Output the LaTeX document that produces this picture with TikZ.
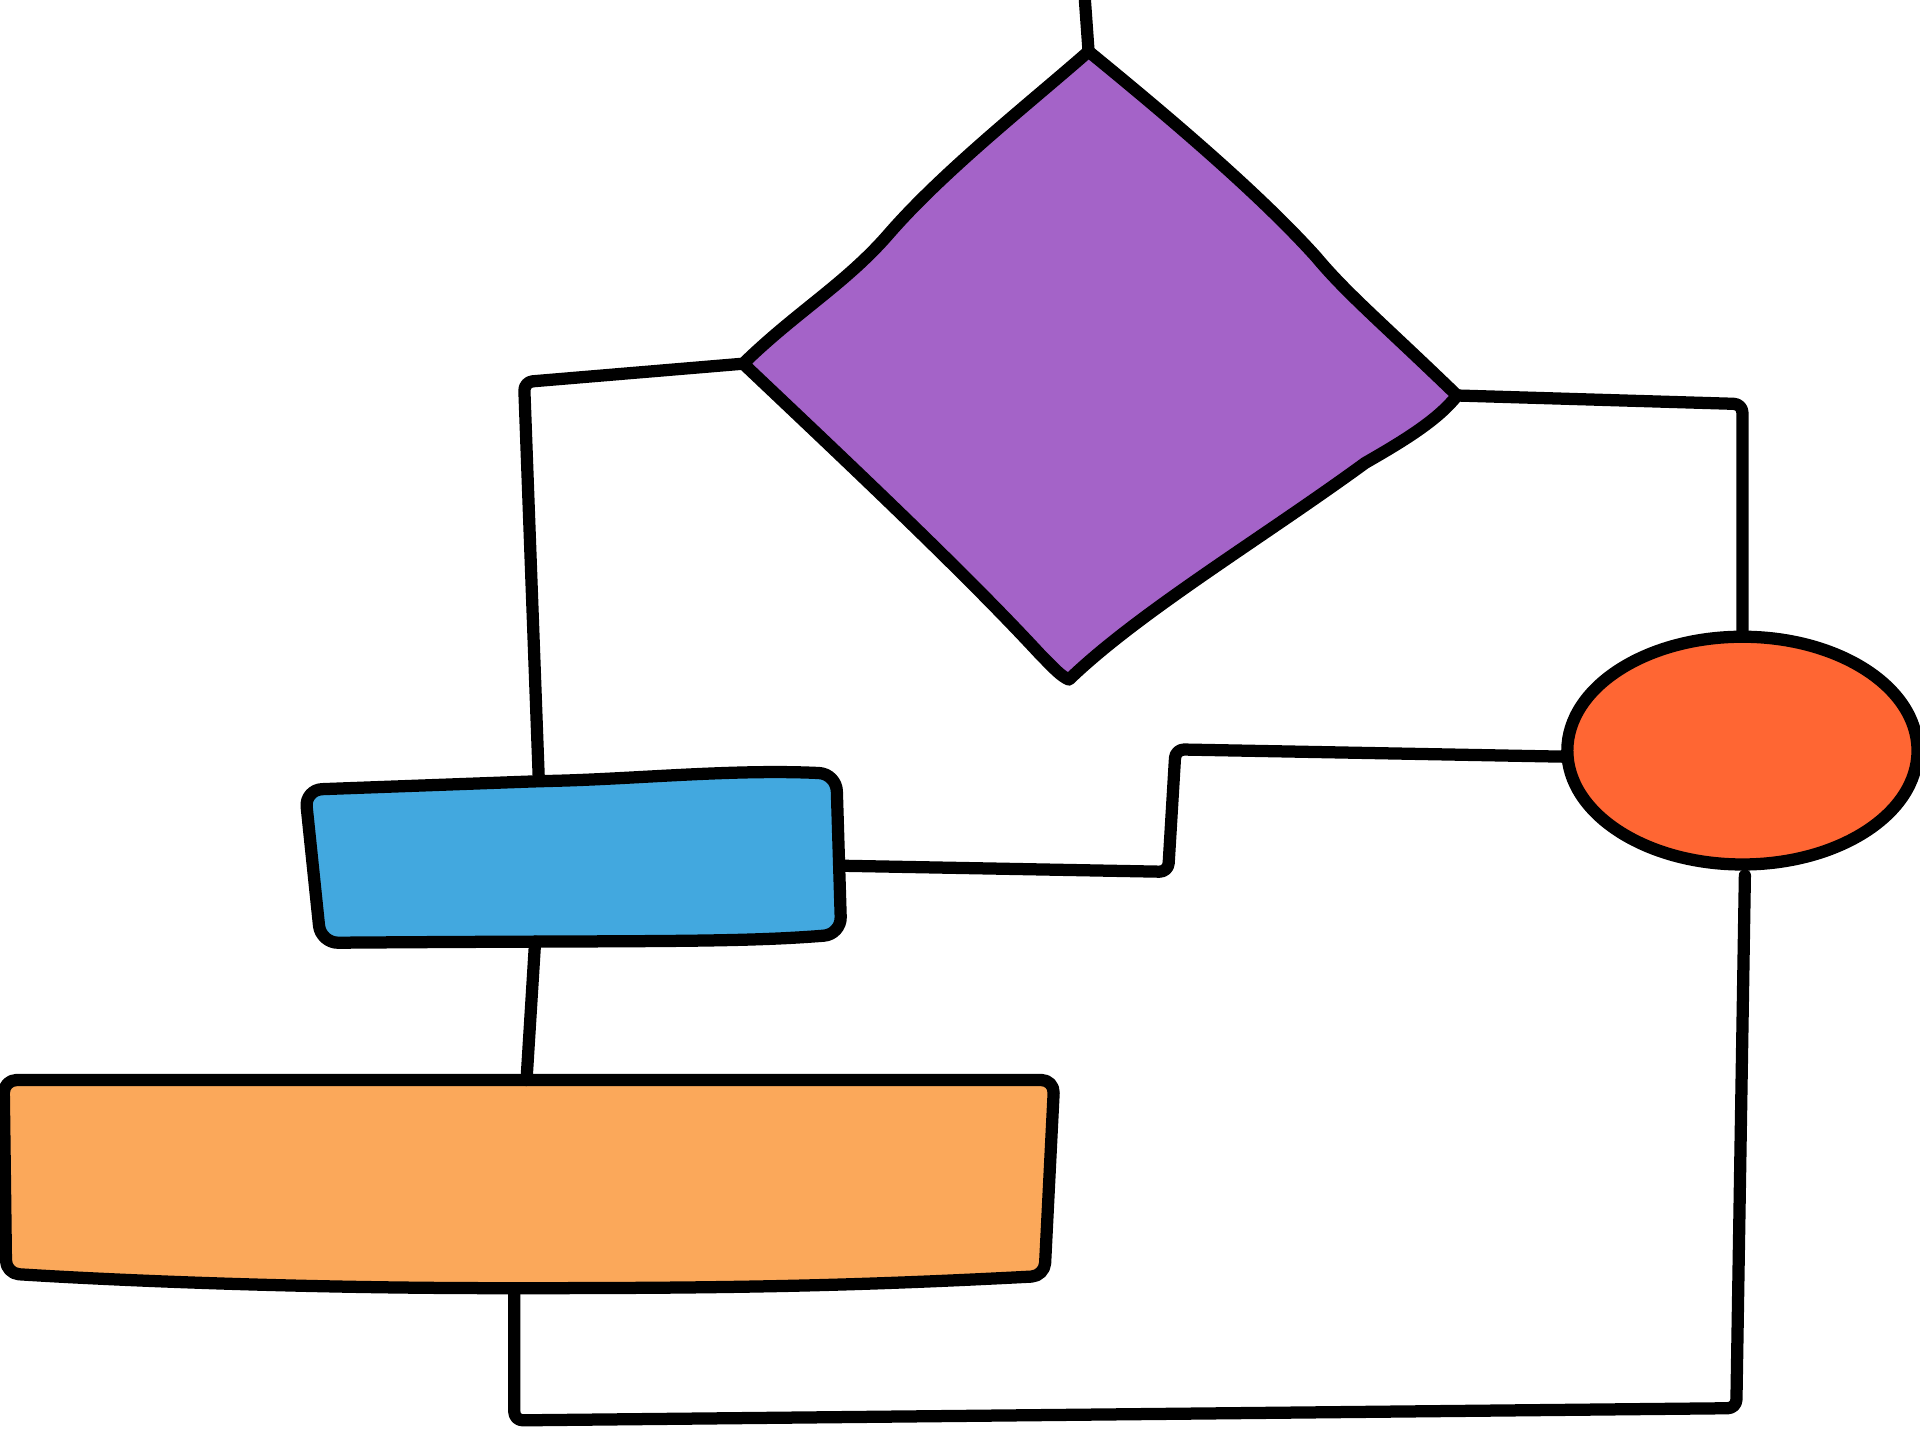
\documentclass[tikz,border=0pt]{standalone}
\usepackage{tikz}
\usepackage{color}

\definecolor{decisionpurple}{HTML}{A463C8}
\definecolor{stepblue}{HTML}{42A8DF}
\definecolor{blockorange}{HTML}{FBA85A}
\definecolor{endred}{HTML}{FF6633}

\tikzset{
  outline/.style={black, line width=0.1 cm, line join=round, line cap=round},
  wire/.style={black, line width=0.1 cm, line join=round, line cap=round, rounded corners=2pt}
}

\begin{document}
\begin{tikzpicture}[x=0.01cm, y=-0.01cm]
\useasboundingbox (0,0) rectangle (1568,1170);

% corners of the shapes
\coordinate (dtop) at (889,42);
\coordinate (dleft) at (607,297);
\coordinate (dright) at (1190,323);
\coordinate (dbottom) at (873,555);
\coordinate (bluetl) at (249,645);
\coordinate (bluetr) at (683,632);
\coordinate (bluebr) at (687,763);
\coordinate (bluebl) at (262,770);
\coordinate (orangetl) at (3,882);
\coordinate (orangetr) at (861,882);
\coordinate (orangebr) at (853,1042);
\coordinate (orangebl) at (5,1040);
\coordinate (endc) at (1423,613);

% decision
\filldraw[outline, fill=decisionpurple] (dtop)
  .. controls (840,85) and (770,140) .. (725,192)
  .. controls (690,232) and (650,255) .. (dleft)
  .. controls (700,385) and (790,470) .. (850,535)
  .. controls (860,545) and (866,552) .. (dbottom)
  .. controls (930,500) and (1030,440) .. (1115,378)
  .. controls (1150,358) and (1175,342) .. (dright)
  .. controls (1130,265) and (1100,240) .. (1075,210)
  .. controls (1030,160) and (960,100) .. cycle;

% process boxes
\filldraw[outline, fill=stepblue, rounded corners=4pt] (bluetl) -- (440,638)
  .. controls (520,636) and (600,628) .. (bluetr) -- (bluebr)
  .. controls (600,770) and (520,768) .. (bluebl) -- cycle;
\filldraw[outline, fill=blockorange, rounded corners=3pt] (orangetl) -- (orangetr)
  -- (orangebr) .. controls (700,1050) and (600,1052) .. (420,1052)
  .. controls (250,1052) and (100,1046) .. (orangebl) -- cycle;

% terminal
\filldraw[outline, fill=endred] (endc) ellipse [x radius=143, y radius=93];
\coordinate (endtop) at (1423,520);
\coordinate (endleft) at (1280,618);
\coordinate (endbottom) at (1425,715);

\coordinate (bluetop) at (440,636);
\coordinate (blueright) at (686,707);
\coordinate (bluebottom) at (437,769);
\coordinate (orangetop) at (430,882);
\coordinate (orangebottom) at (420,1052);

% connectors
\draw[wire] (886,0) -- (dtop);
\draw[wire] (dleft) -- (428,312) -- (bluetop);
\draw[wire] (dright) -- (1423,330) -- (endtop);
\draw[wire] (blueright) -- (954,712) -- (960,612) -- (endleft);
\draw[wire] (bluebottom) -- (orangetop);
\draw[wire] (orangebottom) -- (420,1160) -- (1418,1150) -- (endbottom);
\end{tikzpicture}
\end{document}
